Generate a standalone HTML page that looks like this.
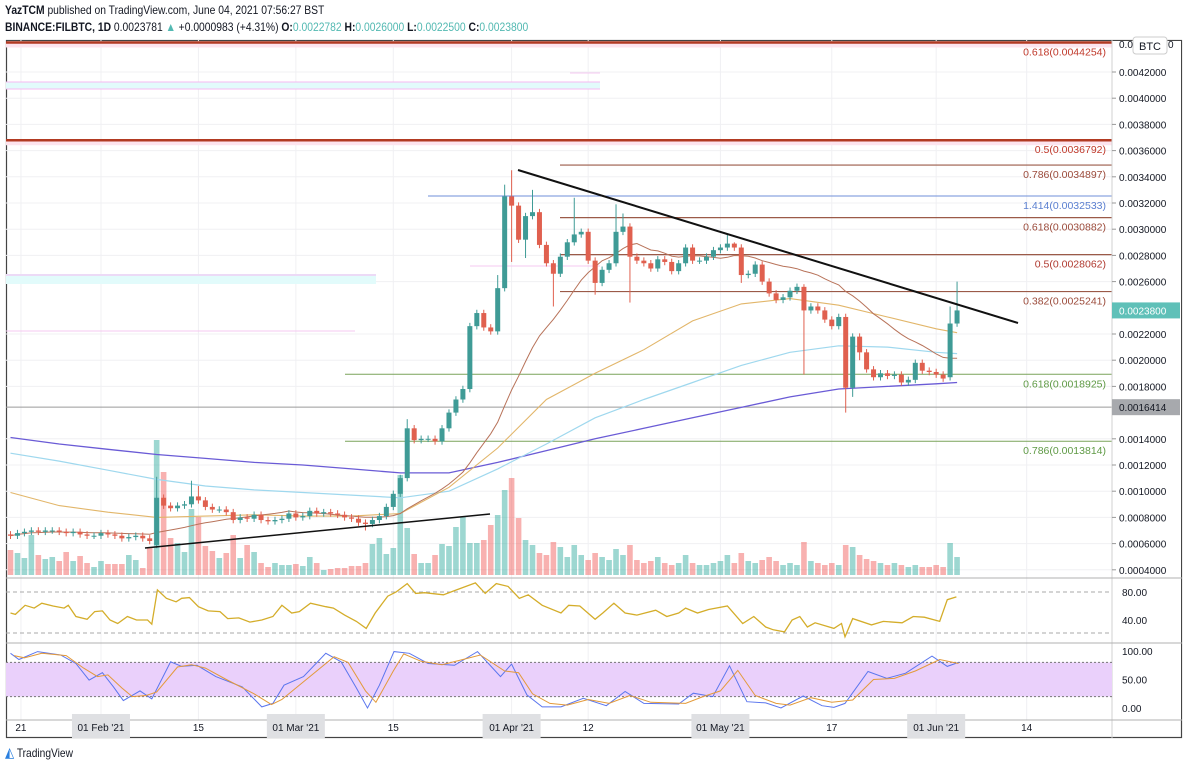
<!DOCTYPE html>
<html><head><meta charset="utf-8">
<style>
html,body{margin:0;padding:0;background:#fff;}
body{width:1186px;height:768px;overflow:hidden;font-family:"Liberation Sans",sans-serif;position:relative;}
.hdr{position:absolute;left:5px;font-size:12px;color:#131722;white-space:nowrap;transform:scaleX(0.86);transform-origin:0 0;}
.hdr b{font-weight:bold;}
.v{color:#53b9b2;}
svg text{font-family:"Liberation Sans",sans-serif;}
</style></head>
<body>
<div class="hdr" style="top:3px"><b>YazTCM</b> published on TradingView.com, June 04, 2021 07:56:27 BST</div>
<div class="hdr" style="top:20px"><b>BINANCE:FILBTC, 1D</b> 0.0023781 <span style="color:#53b9b2">▲</span> +0.0000983 (+4.31%) <b>O:</b><span class="v">0.0022782</span> <b>H:</b><span class="v">0.0026000</span> <b>L:</b><span class="v">0.0022500</span> <b>C:</b><span class="v">0.0023800</span></div>
<svg id="chart" width="1186" height="768" style="position:absolute;left:0;top:0"></svg>
<div style="position:absolute;left:5px;top:744px;font-size:12px;color:#131722;transform:scaleX(0.85);transform-origin:0 0"><span style="color:#2a7fdf;font-size:14px">◭</span> TradingView</div>
<script>
// ---- data (prices in units of 0.0001 BTC) ----
const closes = [6.6,6.8,6.9,7.0,6.9,7.0,7.0,6.9,6.8,6.9,6.7,6.6,6.6,6.8,6.7,6.6,6.4,6.5,6.6,6.4,6.2,
9.5,8.9,8.7,8.9,9.0,9.6,9.3,8.8,8.6,8.6,8.4,7.8,8.0,7.9,8.2,7.8,7.7,7.8,7.9,8.3,
8.0,8.1,8.5,8.3,8.4,8.3,8.2,8.0,7.9,7.6,7.5,7.8,8.1,8.8,9.8,11.0,14.8,13.9,14.0,14.0,13.8,14.8,16.0,17.0,17.8,22.6,23.6,22.5,22.2,25.5,32.5,
31.8,29.2,31.0,31.3,28.8,27.4,26.6,27.9,29.0,29.6,29.8,27.6,25.9,26.9,27.4,29.8,30.2,27.9,27.6,27.4,27.0,27.7,27.5,26.8,27.4,28.6,27.6,27.6,27.9,28.4,
28.6,28.9,28.6,26.5,26.6,27.3,26.0,25.1,24.6,24.8,25.3,25.6,23.8,24.1,23.8,23.1,22.6,23.3,
17.9,21.8,20.6,19.3,18.7,19.0,18.8,18.9,18.3,18.5,19.8,19.2,19.1,18.9,18.6,22.8,23.8];
const firstOpen = 6.7;
const openGaps = [[21,5.9],[135,18.7]];
const spikeHighs = [[21,11.1],[26,10.8],[27,10.4],[57,15.5],[70,26.5],[71,33.4],[72,34.5],[75,33.0],[81,32.4],[87,31.9],[88,31.2],[103,29.6],[104,29.0],[114,25.8],[135,24.1],[136,26.0]];
const spikeLows = [[72,27.5],[74,27.8],[78,24.1],[84,25.0],[89,24.4],[105,25.9],[114,18.9],[120,16.0],[121,17.2],[122,20.0],[51,7.0]];
const volumes = [25,22,17,40,20,16,18,14,23,14,19,12,8,14,11,11,11,20,15,7,27,135,103,37,32,23,66,58,29,24,17,22,40,17,30,23,12,8,12,10,10,11,9,18,12,5,6,7,7,9,9,12,31,37,21,27,100,47,21,12,12,20,31,29,48,58,32,32,35,50,60,85,97,57,35,30,22,20,33,28,18,30,20,15,22,18,15,26,20,30,15,12,14,18,12,10,12,20,12,10,10,12,14,20,12,22,14,12,15,18,14,10,12,10,33,14,12,10,12,10,30,28,20,16,14,12,10,12,10,8,10,8,8,10,8,32,18];
const maDays = [0,7,14,21,28,35,42,49,56,63,70,77,84,91,98,105,112,119,126,133,136];
const ma50 = [9.9,8.9,8.4,8.0,8.1,8.2,8.1,8.1,8.3,10.3,13.3,17.0,19.0,20.8,23.0,24.3,24.7,24.2,23.3,22.4,22.1];
const ma100 = [12.9,12.3,11.6,10.9,10.4,10.1,9.9,9.7,9.5,10.0,11.7,13.6,15.6,17.0,18.3,19.6,20.6,21.1,21.0,20.6,20.5];
const ma200 = [14.1,13.6,13.2,12.8,12.5,12.2,12.0,11.7,11.4,11.4,12.2,13.1,14.0,14.8,15.6,16.4,17.2,17.8,18.0,18.2,18.3];
const rsiDays = [0,0.7,2.1,3.4,4.5,6.1,7.7,8.3,9.4,11,12.1,13.2,14.3,15.4,16.8,18.1,19.7,20.3,21.1,22.4,23.8,24.6,25.7,27,28.4,30.1,31.2,32.8,34.4,36.1,37.7,39,40.4,41.5,43.1,45.3,46.4,48,49.7,51.1,52.4,54.2,55.4,57,58.2,59.5,62.2,63.8,66.8,68.2,69.8,71.5,73.1,74.4,76.4,79.1,80.2,81.8,84,85.1,86.7,88.3,90,92.7,94.3,96,97,98.7,100.3,103,105.2,106.8,108.5,109.6,111.2,112.3,113.4,114.5,115.6,118.3,119.4,119.9,121,123.7,125.4,128.1,129.7,131.3,133.5,134.6,135.9];
const rsiVals = [50,48,61,57,64,60,57,61,45,41,52,53,40,35,45,40,40,34,83,71,66,71,72,59,53,52,42,43,37,40,45,61,50,52,64,59,57,47,38,28,50,74,80,92,78,79,76,82,93,78,92,88,71,76,61,50,61,60,41,50,64,50,47,54,45,50,57,50,55,60,35,45,30,26,23,40,45,30,36,28,35,16,42,33,38,36,45,44,38,69,73];
const kDays = [0,1.2,3.9,7.2,9.4,11.3,13.2,14.8,16.2,18.6,20.3,23,24.6,26.8,29.5,33.3,36.1,37.7,39.3,42.1,45.3,47.5,49.7,51.3,53,55.1,57.3,60,63.8,67.1,70.4,72,74.2,76.4,79.1,82.3,85.6,88.3,91,96,98.1,100.9,103.3,105.8,108.5,110.7,113.9,116.6,118.3,119.9,123.2,125.9,128.6,132.4,134.6,136.2];
const kVals = [96,85,99,93,78,49,62,37,13,30,16,81,73,75,55,37,2,8,40,55,96,81,35,0,40,99,96,78,75,99,55,77,23,2,2,17,4,29,8,7,26,20,74,11,9,0,21,4,1,8,64,52,61,91,73,80];
const dDays = [0.5,2,4.5,8,10.5,12.5,14,16,17.5,19.5,21,24,26,28,31,35,37.5,39,41,44,46.5,48.5,51,52.5,55,56.5,59,62,65,67.5,71,73,75,77.5,80,83,86,89,92,97,99.5,102,104.5,107,110,112,115,118,121,124,127,130,133.5,136.2];
const dVals = [92,88,96,92,70,55,58,35,20,22,28,72,76,70,50,25,6,15,35,65,90,80,30,10,65,95,82,76,85,93,65,62,25,8,5,15,8,22,10,8,20,30,66,22,8,5,18,10,14,50,52,65,85,78];
const priceTicks = [42,40,38,36,34,32,30,28,26,22,20,18,14,12,10,8,6,4];
const fibLevels = [
 {p:44.254,lab:"0.618(0.0044254)",c:"#b23a22",x0:6,w:2.5,tc:"#c0392b"},
 {p:36.792,lab:"0.5(0.0036792)",c:"#b23a22",x0:6,w:2.5,tc:"#c0392b"},
 {p:34.897,lab:"0.786(0.0034897)",c:"#9b5a48",x0:560,w:1.2,tc:"#9b4a3a"},
 {p:32.533,lab:"1.414(0.0032533)",c:"#6f8fd8",x0:428,w:1,tc:"#5a7fd0"},
 {p:30.882,lab:"0.618(0.0030882)",c:"#9b5a48",x0:560,w:1.2,tc:"#9b4a3a"},
 {p:28.062,lab:"0.5(0.0028062)",c:"#9b5a48",x0:560,w:1.2,tc:"#b03a30"},
 {p:25.241,lab:"0.382(0.0025241)",c:"#9b5a48",x0:560,w:1.2,tc:"#9b4a3a"},
 {p:18.925,lab:"0.618(0.0018925)",c:"#7aa35a",x0:345,w:1,tc:"#5f9a45"},
 {p:13.814,lab:"0.786(0.0013814)",c:"#7aa35a",x0:345,w:1,tc:"#5f9a45"}];
const timeLabels = [["21",1.5],["01 Feb '21",13],["15",27],["01 Mar '21",41],["15",55],["01 Apr '21",72],["12",83],["01 May '21",102],["17",118],["01 Jun '21",133],["14",146]];

// ---- geometry ----
const NS="http://www.w3.org/2000/svg";
const svg=document.getElementById('chart');
const X=i=>10.5+i*6.96;
const Y=p=>72+(42-p)*13.1;
const YV=v=>575-v;
const YR=v=>592+(80-v)*0.7;
const YS=v=>708-v*0.57;
const PR=1112;
function mk(tag,a,parent){const e=document.createElementNS(NS,tag);for(const k in a)e.setAttribute(k,a[k]);(parent||svg).appendChild(e);return e;}

const frame=mk('rect',{x:6.5,y:40.5,width:1175,height:697,fill:'none',stroke:'#444','stroke-width':1.2});


const grid=mk('g',{stroke:'#f0f0f3','stroke-width':1});


priceTicks.forEach(p=>mk('line',{x1:6,x2:PR,y1:Y(p),y2:Y(p)},grid));
timeLabels.forEach(t=>mk('line',{x1:X(t[1]),x2:X(t[1]),y1:40,y2:720},grid));

const faint=mk('g',{});


mk('rect',{x:6,y:82,width:594,height:7,fill:'#e2fbfb'},faint);
mk('line',{x1:6,x2:600,y1:82,y2:82,stroke:'#f5b8f0'},faint);
mk('line',{x1:6,x2:600,y1:89,y2:89,stroke:'#f5b8f0'},faint);
mk('rect',{x:6,y:274,width:370,height:10,fill:'#e2fbfb'},faint);
mk('line',{x1:6,x2:376,y1:275,y2:275,stroke:'#f5b8f0'},faint);
mk('line',{x1:6,x2:355,y1:331,y2:331,stroke:'#f5c8f0'},faint);
mk('line',{x1:470,x2:600,y1:266,y2:266,stroke:'#f5c8f0'},faint);
mk('line',{x1:570,x2:600,y1:73,y2:73,stroke:'#f5c8f0'},faint);

const opens=closes.map((c,i)=>i===0?firstOpen:closes[i-1]);
openGaps.forEach(g=>opens[g[0]]=g[1]);
const highs=closes.map((c,i)=>Math.max(c,opens[i])+0.25);
const lows=closes.map((c,i)=>Math.min(c,opens[i])-0.25);
spikeHighs.forEach(s=>highs[s[0]]=s[1]);
spikeLows.forEach(s=>lows[s[0]]=s[1]);
const vg=mk('g',{});


volumes.forEach((v,i)=>{const up=closes[i]>=opens[i];
 const r=mk('rect',{x:X(i)-2.8,y:YV(v),width:5.6,height:v,fill:up?'rgba(38,166,154,0.45)':'rgba(239,83,80,0.45)'},vg);
 
 
});

fibLevels.forEach(f=>{
 const g=mk('g',{});
 
 
 if(f.w>2) mk('rect',{x:f.x0,y:Y(f.p)-1,width:PR-f.x0,height:6,fill:'#fde4ee'},g);
 mk('line',{x1:f.x0,x2:PR,y1:Y(f.p),y2:Y(f.p),stroke:f.c,'stroke-width':f.w},g);
 const t=mk('text',{x:1106,y:Y(f.p)+13,'text-anchor':'end','font-size':10.5,fill:f.tc},g);t.textContent=f.lab;
});
const gl=mk('line',{x1:6,x2:PR,y1:Y(16.414),y2:Y(16.414),stroke:'#9a9a9a','stroke-width':1});



function line(days,vals,yf,color,w,name){
 const d=days.map((t,k)=>(k?'L':'M')+X(t).toFixed(1)+' '+yf(vals[k]).toFixed(1)).join(' ');
 const p=mk('path',{d:d,fill:'none',stroke:color,'stroke-width':w});
 
 
 return p;
}
line(maDays,ma200,Y,'#6a5bd6',1.3,'ma200-line');
line(maDays,ma100,Y,'#9fd8ee',1.2,'ma100-line');
line(maDays,ma50,Y,'#e2b66a',1.1,'ma50-line');
const ma20=closes.map((c,i)=>{const s=closes.slice(Math.max(0,i-19),i+1);return s.reduce((a,b)=>a+b,0)/s.length;});
line(closes.map((c,i)=>i),ma20,Y,'#b8735a',1,'ma20-line');

const cg=mk('g',{});


closes.forEach((c,i)=>{const o=opens[i];const up=c>=o;const col=up?'#3f9b96':'#e0604f';
 const g=mk('g',{},cg);
 
 
 mk('line',{x1:X(i),x2:X(i),y1:Y(highs[i]),y2:Y(lows[i]),stroke:col,'stroke-width':1},g);
 const top=Y(Math.max(o,c)),bot=Y(Math.min(o,c));
 mk('rect',{x:X(i)-2.5,y:top,width:5,height:Math.max(1,bot-top),fill:col},g);
});

const t1=mk('line',{x1:518,y1:170,x2:1018,y2:323,stroke:'#111','stroke-width':2});


const t2=mk('line',{x1:145,y1:548,x2:490,y2:514,stroke:'#111','stroke-width':1.5});



const ax=mk('g',{});


mk('rect',{x:PR,y:41,width:69,height:679,fill:'#fff'},ax);
mk('line',{x1:PR,x2:PR,y1:40,y2:738,stroke:'#d0d0d0'},ax);
priceTicks.forEach(p=>{mk('line',{x1:PR,x2:PR+4,y1:Y(p),y2:Y(p),stroke:'#999'},ax);
 const t=mk('text',{x:PR+7,y:Y(p)+4,'font-size':10,fill:'#131722'},ax);t.textContent=(p/10000).toFixed(7);});
const top0=mk('text',{x:PR+7,y:48,'font-size':10,fill:'#131722'},ax);top0.textContent='0.0';
mk('rect',{x:1133,y:37,width:34,height:17,rx:3,fill:'#fff',stroke:'#ccc'},ax);
const btc=mk('text',{x:1139,y:50,'font-size':11,fill:'#131722'},ax);btc.textContent='BTC';
const lt=mk('text',{x:1168,y:48,'font-size':10,fill:'#131722'},ax);lt.textContent='0';
mk('rect',{x:PR,y:Y(23.8)-8,width:68,height:16,fill:'#5fc0b8'},ax);
const cp=mk('text',{x:PR+7,y:Y(23.8)+4,'font-size':10,fill:'#fff'},ax);cp.textContent='0.0023800';
mk('rect',{x:PR,y:Y(16.414)-8,width:68,height:16,fill:'#a7a9ad'},ax);
const sp=mk('text',{x:PR+7,y:Y(16.414)+4,'font-size':10,fill:'#131722'},ax);sp.textContent='0.0016414';

mk('line',{x1:6,x2:1182,y1:578,y2:578,stroke:'#b0b0b0'});
mk('line',{x1:6,x2:1182,y1:643,y2:643,stroke:'#b0b0b0'});
mk('line',{x1:6,x2:1182,y1:720,y2:720,stroke:'#b0b0b0'});

const rg=mk('g',{});


mk('line',{x1:6,x2:PR,y1:592,y2:592,stroke:'#aaa','stroke-dasharray':'4 3'},rg);
mk('line',{x1:6,x2:PR,y1:633,y2:633,stroke:'#aaa','stroke-dasharray':'4 3'},rg);
[[80,592],[40,620]].forEach(a=>{const t=mk('text',{x:1122,y:a[1]+4,'font-size':10,fill:'#131722'},rg);t.textContent=a[0].toFixed(2);});
line(rsiDays,rsiVals,YR,'#d4ad2a',1.3,'rsi-line');

const sg=mk('g',{});


mk('rect',{x:6,y:YS(80),width:PR-6,height:YS(20)-YS(80),fill:'#ead0fb'},sg);
mk('line',{x1:6,x2:PR,y1:YS(80),y2:YS(80),stroke:'#777','stroke-dasharray':'2 2'},sg);
mk('line',{x1:6,x2:PR,y1:YS(20),y2:YS(20),stroke:'#777','stroke-dasharray':'2 2'},sg);
[100,50,0].forEach(v=>{const t=mk('text',{x:1122,y:YS(v)+4,'font-size':10,fill:'#131722'},sg);t.textContent=v.toFixed(2);});
line(kDays,kVals,YS,'#5b76ee',1,'stoch-k-line');
line(dDays,dVals,YS,'#e39a3a',1,'stoch-d-line');

const tg=mk('g',{});


timeLabels.forEach(t=>{const x=X(t[1]);const big=t[0].length>3;
 if(big) mk('rect',{x:x-29,y:714,width:58,height:24,fill:'#dfe0e3'},tg);
 const tx=mk('text',{x:x,y:731,'text-anchor':'middle','font-size':10,fill:'#131722'},tg);tx.textContent=t[0];});
</script>
</body></html>
